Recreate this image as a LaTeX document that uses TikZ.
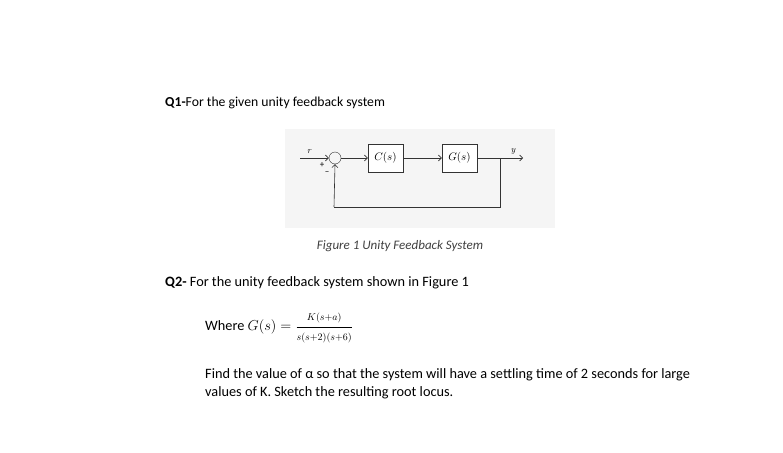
\documentclass[tikz,border=0pt]{standalone}
\usepackage{fontspec}
\setmainfont{Carlito}
\usepackage{amsmath}
\usetikzlibrary{arrows.meta}
\begin{document}
\begin{tikzpicture}[x=1pt,y=-1pt,
  txt/.style={anchor=west,inner sep=0pt,font=\fontsize{14.3}{16}\selectfont},
  blk/.style={draw=black!80,fill=white,minimum width=35pt,minimum height=28pt,inner sep=0pt,font=\fontfamily{lmr}\fontsize{11}{12}\selectfont},
  sig/.style={draw=black!80,line width=0.6pt,-{Straight Barb[length=3pt]}},
  ln/.style={draw=black!80,line width=0.6pt},
  sm/.style={inner sep=0pt,font=\fontfamily{lmr}\fontsize{9}{10}\selectfont\itshape}]
\useasboundingbox (0,0) rectangle (783,452);
\fill[white] (0,0) rectangle (783,452);
\fill[black!4] (285,129) rectangle (555,228);
\node[txt,font=\fontsize{13.7}{15}\selectfont] (q1) at (165,103) {\textbf{Q1-}For the given unity feedback system};
\coordinate (in) at (300,158);
\node[draw=black!80,circle,minimum size=12pt,inner sep=0pt] (sum) at (335,158) {};
\node[blk] (c) at (385.5,158) {$C(s)$};
\node[blk] (g) at (459.5,158) {$G(s)$};
\coordinate (br) at (500,158);
\coordinate (out) at (523,158);
\coordinate (fb1) at (500,207);
\coordinate (fb2) at (334,207);
\draw[sig] (in) -- (sum.west);
\draw[sig] (sum) -- (c);
\draw[sig] (c) -- (g);
\draw[ln] (g) -- (br);
\draw[sig] (br) -- (out);
\draw[ln] (br) -- (fb1) -- (fb2);
\draw[sig] (fb2) -- (sum.south);
\node[sm] (r) at (309,152) {r};
\node[sm] (y) at (513,151) {y};
\node[sm,font=\fontsize{9}{10}\selectfont] (p) at (322,165) {+};
\node[sm,font=\fontsize{9}{10}\selectfont] (m) at (327,173) {--};
\node[inner sep=0pt,font=\fontsize{13}{15}\selectfont\itshape,text=black!75] (cap) at (400,246) {Figure 1 Unity Feedback System};
\node[txt] (q2) at (165,283) {\textbf{Q2-} For the unity feedback system shown in Figure 1};
\node[txt] (wh) at (205,328) {Where $G(s)=\dfrac{\scriptstyle K(s+a)}{\scriptstyle s(s+2)(s+6)}$};
\node[txt] (f1) at (205,375) {Find the value of α so that the system will have a settling time of 2 seconds for large};
\node[txt] (f2) at (205,393) {values of K. Sketch the resulting root locus.};
\end{tikzpicture}
\end{document}
